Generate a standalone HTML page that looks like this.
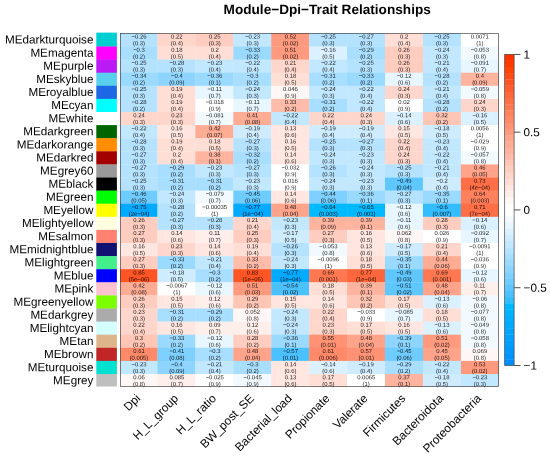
<!DOCTYPE html>
<html lang="en"><head><meta charset="utf-8"><title>Module-Dpi-Trait Relationships</title>
<style>html,body{margin:0;padding:0;background:#fff}svg{display:block}text{font-family:"Liberation Sans",Arial,Helvetica,sans-serif;fill:#000;text-rendering:geometricPrecision}.c{font-size:5.9px;text-anchor:middle;fill-opacity:.9}.r{font-size:11.7px;text-anchor:end}.x{font-size:11.8px;text-anchor:end}.k{font-size:11.7px}</style></head>
<body>
<svg width="550" height="456" viewBox="0 0 550 456">
<rect width="550" height="456" fill="#fff"/>
<text x="327.2" y="14.0" transform="rotate(.05 327.2 14.0)" font-size="13.62" font-weight="bold" text-anchor="middle">Module−Dpi−Trait Relationships</text>
<g>
<rect x="96.30" y="32.60" width="20.60" height="14.20" fill="#00CFD2"/>
<rect x="96.30" y="46.50" width="20.60" height="13.40" fill="#FF00FF"/>
<rect x="96.30" y="59.60" width="20.60" height="13.40" fill="#BB1AF5"/>
<rect x="96.30" y="72.70" width="20.60" height="13.40" fill="#57CFED"/>
<rect x="96.30" y="85.80" width="20.60" height="13.40" fill="#1D69E5"/>
<rect x="96.30" y="98.90" width="20.60" height="13.40" fill="#00FFFF"/>
<rect x="96.30" y="112.00" width="20.60" height="13.40" fill="#FFFFFF"/>
<rect x="96.30" y="125.10" width="20.60" height="13.40" fill="#006400"/>
<rect x="96.30" y="138.20" width="20.60" height="13.40" fill="#FF8D00"/>
<rect x="96.30" y="151.30" width="20.60" height="13.40" fill="#A30000"/>
<rect x="96.30" y="164.40" width="20.60" height="13.40" fill="#9A9A9A"/>
<rect x="96.30" y="177.50" width="20.60" height="13.40" fill="#000000"/>
<rect x="96.30" y="190.60" width="20.60" height="13.40" fill="#00FF00"/>
<rect x="96.30" y="203.70" width="20.60" height="13.40" fill="#FFFF00"/>
<rect x="96.30" y="216.80" width="20.60" height="13.40" fill="#FFFFDF"/>
<rect x="96.30" y="229.90" width="20.60" height="13.40" fill="#FF8172"/>
<rect x="96.30" y="243.00" width="20.60" height="13.40" fill="#121273"/>
<rect x="96.30" y="256.10" width="20.60" height="13.40" fill="#43EF8B"/>
<rect x="96.30" y="269.20" width="20.60" height="13.40" fill="#0000FF"/>
<rect x="96.30" y="282.30" width="20.60" height="13.40" fill="#FFC1CD"/>
<rect x="96.30" y="295.40" width="20.60" height="13.40" fill="#7BFF00"/>
<rect x="96.30" y="308.50" width="20.60" height="13.40" fill="#ABABAB"/>
<rect x="96.30" y="321.60" width="20.60" height="13.40" fill="#D3FFFF"/>
<rect x="96.30" y="334.70" width="20.60" height="13.40" fill="#DEB58B"/>
<rect x="96.30" y="347.80" width="20.60" height="13.40" fill="#C02626"/>
<rect x="96.30" y="360.90" width="20.60" height="13.40" fill="#00E1D0"/>
<rect x="96.30" y="374.00" width="20.60" height="12.55" fill="#BFBFBF"/>
</g>
<g>
<rect x="120.00" y="33.00" width="37.73" height="13.80" fill="#B5E3FF"/><rect x="157.43" y="33.00" width="38.23" height="13.80" fill="#FFD6CB"/><rect x="195.36" y="33.00" width="38.23" height="13.80" fill="#FFCDC0"/><rect x="233.29" y="33.00" width="38.23" height="13.80" fill="#C2E8FF"/><rect x="271.22" y="33.00" width="38.23" height="13.80" fill="#FF9A7F"/><rect x="309.15" y="33.00" width="38.23" height="13.80" fill="#B5E3FF"/><rect x="347.08" y="33.00" width="38.23" height="13.80" fill="#B5E3FF"/><rect x="385.01" y="33.00" width="38.23" height="13.80" fill="#FFDED5"/><rect x="422.94" y="33.00" width="38.23" height="13.80" fill="#B5E3FF"/><rect x="460.87" y="33.00" width="38.03" height="13.80" fill="#FFFFFF"/>
<rect x="120.00" y="46.50" width="37.73" height="13.40" fill="#A8DEFF"/><rect x="157.43" y="46.50" width="38.23" height="13.40" fill="#FFDED5"/><rect x="195.36" y="46.50" width="38.23" height="13.40" fill="#FFDED5"/><rect x="233.29" y="46.50" width="38.23" height="13.40" fill="#9BDAFF"/><rect x="271.22" y="46.50" width="38.23" height="13.40" fill="#FF9A7F"/><rect x="309.15" y="46.50" width="38.23" height="13.40" fill="#DBF1FF"/><rect x="347.08" y="46.50" width="38.23" height="13.40" fill="#A8DEFF"/><rect x="385.01" y="46.50" width="38.23" height="13.40" fill="#FFCDC0"/><rect x="422.94" y="46.50" width="38.23" height="13.40" fill="#C2E8FF"/><rect x="460.87" y="46.50" width="38.03" height="13.40" fill="#F3FAFF"/>
<rect x="120.00" y="59.60" width="37.73" height="13.40" fill="#B5E3FF"/><rect x="157.43" y="59.60" width="38.23" height="13.40" fill="#B5E3FF"/><rect x="195.36" y="59.60" width="38.23" height="13.40" fill="#C2E8FF"/><rect x="233.29" y="59.60" width="38.23" height="13.40" fill="#C2E8FF"/><rect x="271.22" y="59.60" width="38.23" height="13.40" fill="#FFD6CB"/><rect x="309.15" y="59.60" width="38.23" height="13.40" fill="#C2E8FF"/><rect x="347.08" y="59.60" width="38.23" height="13.40" fill="#B5E3FF"/><rect x="385.01" y="59.60" width="38.23" height="13.40" fill="#FFCDC0"/><rect x="422.94" y="59.60" width="38.23" height="13.40" fill="#C2E8FF"/><rect x="460.87" y="59.60" width="38.03" height="13.40" fill="#E7F6FF"/>
<rect x="120.00" y="72.70" width="37.73" height="13.40" fill="#9BDAFF"/><rect x="157.43" y="72.70" width="38.23" height="13.40" fill="#8DD5FF"/><rect x="195.36" y="72.70" width="38.23" height="13.40" fill="#9BDAFF"/><rect x="233.29" y="72.70" width="38.23" height="13.40" fill="#A8DEFF"/><rect x="271.22" y="72.70" width="38.23" height="13.40" fill="#FFDED5"/><rect x="309.15" y="72.70" width="38.23" height="13.40" fill="#A8DEFF"/><rect x="347.08" y="72.70" width="38.23" height="13.40" fill="#9BDAFF"/><rect x="385.01" y="72.70" width="38.23" height="13.40" fill="#E7F6FF"/><rect x="422.94" y="72.70" width="38.23" height="13.40" fill="#B5E3FF"/><rect x="460.87" y="72.70" width="38.03" height="13.40" fill="#FFB4A0"/>
<rect x="120.00" y="85.80" width="37.73" height="13.40" fill="#B5E3FF"/><rect x="157.43" y="85.80" width="38.23" height="13.40" fill="#FFDED5"/><rect x="195.36" y="85.80" width="38.23" height="13.40" fill="#E7F6FF"/><rect x="233.29" y="85.80" width="38.23" height="13.40" fill="#C2E8FF"/><rect x="271.22" y="85.80" width="38.23" height="13.40" fill="#FFF7F5"/><rect x="309.15" y="85.80" width="38.23" height="13.40" fill="#C2E8FF"/><rect x="347.08" y="85.80" width="38.23" height="13.40" fill="#C2E8FF"/><rect x="385.01" y="85.80" width="38.23" height="13.40" fill="#FFD6CB"/><rect x="422.94" y="85.80" width="38.23" height="13.40" fill="#C2E8FF"/><rect x="460.87" y="85.80" width="38.03" height="13.40" fill="#F3FAFF"/>
<rect x="120.00" y="98.90" width="37.73" height="13.40" fill="#B5E3FF"/><rect x="157.43" y="98.90" width="38.23" height="13.40" fill="#FFDED5"/><rect x="195.36" y="98.90" width="38.23" height="13.40" fill="#FFFFFF"/><rect x="233.29" y="98.90" width="38.23" height="13.40" fill="#E7F6FF"/><rect x="271.22" y="98.90" width="38.23" height="13.40" fill="#FFBCAB"/><rect x="309.15" y="98.90" width="38.23" height="13.40" fill="#A8DEFF"/><rect x="347.08" y="98.90" width="38.23" height="13.40" fill="#C2E8FF"/><rect x="385.01" y="98.90" width="38.23" height="13.40" fill="#FFFFFF"/><rect x="422.94" y="98.90" width="38.23" height="13.40" fill="#B5E3FF"/><rect x="460.87" y="98.90" width="38.03" height="13.40" fill="#FFD6CB"/>
<rect x="120.00" y="112.00" width="37.73" height="13.40" fill="#FFD6CB"/><rect x="157.43" y="112.00" width="38.23" height="13.40" fill="#FFD6CB"/><rect x="195.36" y="112.00" width="38.23" height="13.40" fill="#F3FAFF"/><rect x="233.29" y="112.00" width="38.23" height="13.40" fill="#FFAC95"/><rect x="271.22" y="112.00" width="38.23" height="13.40" fill="#C2E8FF"/><rect x="309.15" y="112.00" width="38.23" height="13.40" fill="#FFD6CB"/><rect x="347.08" y="112.00" width="38.23" height="13.40" fill="#FFD6CB"/><rect x="385.01" y="112.00" width="38.23" height="13.40" fill="#DBF1FF"/><rect x="422.94" y="112.00" width="38.23" height="13.40" fill="#FFC5B5"/><rect x="460.87" y="112.00" width="38.03" height="13.40" fill="#DBF1FF"/>
<rect x="120.00" y="125.10" width="37.73" height="13.40" fill="#C2E8FF"/><rect x="157.43" y="125.10" width="38.23" height="13.40" fill="#FFE6E0"/><rect x="195.36" y="125.10" width="38.23" height="13.40" fill="#FFAC95"/><rect x="233.29" y="125.10" width="38.23" height="13.40" fill="#CFECFF"/><rect x="271.22" y="125.10" width="38.23" height="13.40" fill="#FFE6E0"/><rect x="309.15" y="125.10" width="38.23" height="13.40" fill="#CFECFF"/><rect x="347.08" y="125.10" width="38.23" height="13.40" fill="#CFECFF"/><rect x="385.01" y="125.10" width="38.23" height="13.40" fill="#FFE6E0"/><rect x="422.94" y="125.10" width="38.23" height="13.40" fill="#CFECFF"/><rect x="460.87" y="125.10" width="38.03" height="13.40" fill="#FFFFFF"/>
<rect x="120.00" y="138.20" width="37.73" height="13.40" fill="#B5E3FF"/><rect x="157.43" y="138.20" width="38.23" height="13.40" fill="#FFDED5"/><rect x="195.36" y="138.20" width="38.23" height="13.40" fill="#FFDED5"/><rect x="233.29" y="138.20" width="38.23" height="13.40" fill="#B5E3FF"/><rect x="271.22" y="138.20" width="38.23" height="13.40" fill="#FFE6E0"/><rect x="309.15" y="138.20" width="38.23" height="13.40" fill="#B5E3FF"/><rect x="347.08" y="138.20" width="38.23" height="13.40" fill="#B5E3FF"/><rect x="385.01" y="138.20" width="38.23" height="13.40" fill="#FFD6CB"/><rect x="422.94" y="138.20" width="38.23" height="13.40" fill="#C2E8FF"/><rect x="460.87" y="138.20" width="38.03" height="13.40" fill="#FFFFFF"/>
<rect x="120.00" y="151.30" width="37.73" height="13.40" fill="#B5E3FF"/><rect x="157.43" y="151.30" width="38.23" height="13.40" fill="#FFDED5"/><rect x="195.36" y="151.30" width="38.23" height="13.40" fill="#FFB4A0"/><rect x="233.29" y="151.30" width="38.23" height="13.40" fill="#A8DEFF"/><rect x="271.22" y="151.30" width="38.23" height="13.40" fill="#FFE6E0"/><rect x="309.15" y="151.30" width="38.23" height="13.40" fill="#C2E8FF"/><rect x="347.08" y="151.30" width="38.23" height="13.40" fill="#C2E8FF"/><rect x="385.01" y="151.30" width="38.23" height="13.40" fill="#FFD6CB"/><rect x="422.94" y="151.30" width="38.23" height="13.40" fill="#C2E8FF"/><rect x="460.87" y="151.30" width="38.03" height="13.40" fill="#F3FAFF"/>
<rect x="120.00" y="164.40" width="37.73" height="13.40" fill="#B5E3FF"/><rect x="157.43" y="164.40" width="38.23" height="13.40" fill="#A8DEFF"/><rect x="195.36" y="164.40" width="38.23" height="13.40" fill="#C2E8FF"/><rect x="233.29" y="164.40" width="38.23" height="13.40" fill="#B5E3FF"/><rect x="271.22" y="164.40" width="38.23" height="13.40" fill="#FFFFFF"/><rect x="309.15" y="164.40" width="38.23" height="13.40" fill="#B5E3FF"/><rect x="347.08" y="164.40" width="38.23" height="13.40" fill="#C2E8FF"/><rect x="385.01" y="164.40" width="38.23" height="13.40" fill="#B5E3FF"/><rect x="422.94" y="164.40" width="38.23" height="13.40" fill="#C2E8FF"/><rect x="460.87" y="164.40" width="38.03" height="13.40" fill="#FFA38A"/>
<rect x="120.00" y="177.50" width="37.73" height="13.40" fill="#B5E3FF"/><rect x="157.43" y="177.50" width="38.23" height="13.40" fill="#A8DEFF"/><rect x="195.36" y="177.50" width="38.23" height="13.40" fill="#A8DEFF"/><rect x="233.29" y="177.50" width="38.23" height="13.40" fill="#C2E8FF"/><rect x="271.22" y="177.50" width="38.23" height="13.40" fill="#FFFFFF"/><rect x="309.15" y="177.50" width="38.23" height="13.40" fill="#C2E8FF"/><rect x="347.08" y="177.50" width="38.23" height="13.40" fill="#C2E8FF"/><rect x="385.01" y="177.50" width="38.23" height="13.40" fill="#5EC7FF"/><rect x="422.94" y="177.50" width="38.23" height="13.40" fill="#CFECFF"/><rect x="460.87" y="177.50" width="38.03" height="13.40" fill="#FF6F47"/>
<rect x="120.00" y="190.60" width="37.73" height="13.40" fill="#6FCCFF"/><rect x="157.43" y="190.60" width="38.23" height="13.40" fill="#C2E8FF"/><rect x="195.36" y="190.60" width="38.23" height="13.40" fill="#F3FAFF"/><rect x="233.29" y="190.60" width="38.23" height="13.40" fill="#6FCCFF"/><rect x="271.22" y="190.60" width="38.23" height="13.40" fill="#FFE6E0"/><rect x="309.15" y="190.60" width="38.23" height="13.40" fill="#7ED0FF"/><rect x="347.08" y="190.60" width="38.23" height="13.40" fill="#9BDAFF"/><rect x="385.01" y="190.60" width="38.23" height="13.40" fill="#B5E3FF"/><rect x="422.94" y="190.60" width="38.23" height="13.40" fill="#9BDAFF"/><rect x="460.87" y="190.60" width="38.03" height="13.40" fill="#FF815E"/>
<rect x="120.00" y="203.70" width="37.73" height="13.40" fill="#00AAFF"/><rect x="157.43" y="203.70" width="38.23" height="13.40" fill="#B5E3FF"/><rect x="195.36" y="203.70" width="38.23" height="13.40" fill="#FFFFFF"/><rect x="233.29" y="203.70" width="38.23" height="13.40" fill="#00AAFF"/><rect x="271.22" y="203.70" width="38.23" height="13.40" fill="#FFA38A"/><rect x="309.15" y="203.70" width="38.23" height="13.40" fill="#01B9FF"/><rect x="347.08" y="203.70" width="38.23" height="13.40" fill="#01B9FF"/><rect x="385.01" y="203.70" width="38.23" height="13.40" fill="#E7F6FF"/><rect x="422.94" y="203.70" width="38.23" height="13.40" fill="#33BDFF"/><rect x="460.87" y="203.70" width="38.03" height="13.40" fill="#FF6F47"/>
<rect x="120.00" y="216.80" width="37.73" height="13.40" fill="#FFCDC0"/><rect x="157.43" y="216.80" width="38.23" height="13.40" fill="#B5E3FF"/><rect x="195.36" y="216.80" width="38.23" height="13.40" fill="#B5E3FF"/><rect x="233.29" y="216.80" width="38.23" height="13.40" fill="#FFD6CB"/><rect x="271.22" y="216.80" width="38.23" height="13.40" fill="#C2E8FF"/><rect x="309.15" y="216.80" width="38.23" height="13.40" fill="#FFB4A0"/><rect x="347.08" y="216.80" width="38.23" height="13.40" fill="#FFB4A0"/><rect x="385.01" y="216.80" width="38.23" height="13.40" fill="#E7F6FF"/><rect x="422.94" y="216.80" width="38.23" height="13.40" fill="#FFCDC0"/><rect x="460.87" y="216.80" width="38.03" height="13.40" fill="#DBF1FF"/>
<rect x="120.00" y="229.90" width="37.73" height="13.40" fill="#FFCDC0"/><rect x="157.43" y="229.90" width="38.23" height="13.40" fill="#FFE6E0"/><rect x="195.36" y="229.90" width="38.23" height="13.40" fill="#FFEFEA"/><rect x="233.29" y="229.90" width="38.23" height="13.40" fill="#FFCDC0"/><rect x="271.22" y="229.90" width="38.23" height="13.40" fill="#CFECFF"/><rect x="309.15" y="229.90" width="38.23" height="13.40" fill="#FFCDC0"/><rect x="347.08" y="229.90" width="38.23" height="13.40" fill="#FFE6E0"/><rect x="385.01" y="229.90" width="38.23" height="13.40" fill="#FFF7F5"/><rect x="422.94" y="229.90" width="38.23" height="13.40" fill="#FFFFFF"/><rect x="460.87" y="229.90" width="38.03" height="13.40" fill="#E7F6FF"/>
<rect x="120.00" y="243.00" width="37.73" height="13.40" fill="#FFE6E0"/><rect x="157.43" y="243.00" width="38.23" height="13.40" fill="#FFD6CB"/><rect x="195.36" y="243.00" width="38.23" height="13.40" fill="#FFE6E0"/><rect x="233.29" y="243.00" width="38.23" height="13.40" fill="#FFDED5"/><rect x="271.22" y="243.00" width="38.23" height="13.40" fill="#B5E3FF"/><rect x="309.15" y="243.00" width="38.23" height="13.40" fill="#F3FAFF"/><rect x="347.08" y="243.00" width="38.23" height="13.40" fill="#FFE6E0"/><rect x="385.01" y="243.00" width="38.23" height="13.40" fill="#CFECFF"/><rect x="422.94" y="243.00" width="38.23" height="13.40" fill="#FFD6CB"/><rect x="460.87" y="243.00" width="38.03" height="13.40" fill="#FFFFFF"/>
<rect x="120.00" y="256.10" width="37.73" height="13.40" fill="#FFCDC0"/><rect x="157.43" y="256.10" width="38.23" height="13.40" fill="#9BDAFF"/><rect x="195.36" y="256.10" width="38.23" height="13.40" fill="#C2E8FF"/><rect x="233.29" y="256.10" width="38.23" height="13.40" fill="#FFBCAB"/><rect x="271.22" y="256.10" width="38.23" height="13.40" fill="#C2E8FF"/><rect x="309.15" y="256.10" width="38.23" height="13.40" fill="#FFFFFF"/><rect x="347.08" y="256.10" width="38.23" height="13.40" fill="#FFDED5"/><rect x="385.01" y="256.10" width="38.23" height="13.40" fill="#9BDAFF"/><rect x="422.94" y="256.10" width="38.23" height="13.40" fill="#FFAC95"/><rect x="460.87" y="256.10" width="38.03" height="13.40" fill="#FFFFFF"/>
<rect x="120.00" y="269.20" width="37.73" height="13.40" fill="#FF5423"/><rect x="157.43" y="269.20" width="38.23" height="13.40" fill="#CFECFF"/><rect x="195.36" y="269.20" width="38.23" height="13.40" fill="#A8DEFF"/><rect x="233.29" y="269.20" width="38.23" height="13.40" fill="#FF5423"/><rect x="271.22" y="269.20" width="38.23" height="13.40" fill="#00AAFF"/><rect x="309.15" y="269.20" width="38.23" height="13.40" fill="#FF7852"/><rect x="347.08" y="269.20" width="38.23" height="13.40" fill="#FF663B"/><rect x="385.01" y="269.20" width="38.23" height="13.40" fill="#5EC7FF"/><rect x="422.94" y="269.20" width="38.23" height="13.40" fill="#FF7852"/><rect x="460.87" y="269.20" width="38.03" height="13.40" fill="#E7F6FF"/>
<rect x="120.00" y="282.30" width="37.73" height="13.40" fill="#FFAC95"/><rect x="157.43" y="282.30" width="38.23" height="13.40" fill="#FFFFFF"/><rect x="195.36" y="282.30" width="38.23" height="13.40" fill="#E7F6FF"/><rect x="233.29" y="282.30" width="38.23" height="13.40" fill="#FF9A7F"/><rect x="271.22" y="282.30" width="38.23" height="13.40" fill="#4BC2FF"/><rect x="309.15" y="282.30" width="38.23" height="13.40" fill="#FFDED5"/><rect x="347.08" y="282.30" width="38.23" height="13.40" fill="#FFB4A0"/><rect x="385.01" y="282.30" width="38.23" height="13.40" fill="#5EC7FF"/><rect x="422.94" y="282.30" width="38.23" height="13.40" fill="#FFA38A"/><rect x="460.87" y="282.30" width="38.03" height="13.40" fill="#FFEFEA"/>
<rect x="120.00" y="295.40" width="37.73" height="13.40" fill="#FFCDC0"/><rect x="157.43" y="295.40" width="38.23" height="13.40" fill="#FFE6E0"/><rect x="195.36" y="295.40" width="38.23" height="13.40" fill="#FFEFEA"/><rect x="233.29" y="295.40" width="38.23" height="13.40" fill="#FFC5B5"/><rect x="271.22" y="295.40" width="38.23" height="13.40" fill="#FFE6E0"/><rect x="309.15" y="295.40" width="38.23" height="13.40" fill="#FFE6E0"/><rect x="347.08" y="295.40" width="38.23" height="13.40" fill="#FFC5B5"/><rect x="385.01" y="295.40" width="38.23" height="13.40" fill="#FFDED5"/><rect x="422.94" y="295.40" width="38.23" height="13.40" fill="#DBF1FF"/><rect x="460.87" y="295.40" width="38.03" height="13.40" fill="#F3FAFF"/>
<rect x="120.00" y="308.50" width="37.73" height="13.40" fill="#FFD6CB"/><rect x="157.43" y="308.50" width="38.23" height="13.40" fill="#A8DEFF"/><rect x="195.36" y="308.50" width="38.23" height="13.40" fill="#A8DEFF"/><rect x="233.29" y="308.50" width="38.23" height="13.40" fill="#FFF7F5"/><rect x="271.22" y="308.50" width="38.23" height="13.40" fill="#C2E8FF"/><rect x="309.15" y="308.50" width="38.23" height="13.40" fill="#FFD6CB"/><rect x="347.08" y="308.50" width="38.23" height="13.40" fill="#FFFFFF"/><rect x="385.01" y="308.50" width="38.23" height="13.40" fill="#E7F6FF"/><rect x="422.94" y="308.50" width="38.23" height="13.40" fill="#FFDED5"/><rect x="460.87" y="308.50" width="38.03" height="13.40" fill="#F3FAFF"/>
<rect x="120.00" y="321.60" width="37.73" height="13.40" fill="#FFD6CB"/><rect x="157.43" y="321.60" width="38.23" height="13.40" fill="#FFE6E0"/><rect x="195.36" y="321.60" width="38.23" height="13.40" fill="#FFEFEA"/><rect x="233.29" y="321.60" width="38.23" height="13.40" fill="#FFEFEA"/><rect x="271.22" y="321.60" width="38.23" height="13.40" fill="#C2E8FF"/><rect x="309.15" y="321.60" width="38.23" height="13.40" fill="#FFD6CB"/><rect x="347.08" y="321.60" width="38.23" height="13.40" fill="#FFDED5"/><rect x="385.01" y="321.60" width="38.23" height="13.40" fill="#FFE6E0"/><rect x="422.94" y="321.60" width="38.23" height="13.40" fill="#DBF1FF"/><rect x="460.87" y="321.60" width="38.03" height="13.40" fill="#F3FAFF"/>
<rect x="120.00" y="334.70" width="37.73" height="13.40" fill="#FFC5B5"/><rect x="157.43" y="334.70" width="38.23" height="13.40" fill="#9BDAFF"/><rect x="195.36" y="334.70" width="38.23" height="13.40" fill="#E7F6FF"/><rect x="233.29" y="334.70" width="38.23" height="13.40" fill="#FFCDC0"/><rect x="271.22" y="334.70" width="38.23" height="13.40" fill="#9BDAFF"/><rect x="309.15" y="334.70" width="38.23" height="13.40" fill="#FF9274"/><rect x="347.08" y="334.70" width="38.23" height="13.40" fill="#FFA38A"/><rect x="385.01" y="334.70" width="38.23" height="13.40" fill="#8DD5FF"/><rect x="422.94" y="334.70" width="38.23" height="13.40" fill="#FF9A7F"/><rect x="460.87" y="334.70" width="38.03" height="13.40" fill="#F3FAFF"/>
<rect x="120.00" y="347.80" width="37.73" height="13.40" fill="#FF8969"/><rect x="157.43" y="347.80" width="38.23" height="13.40" fill="#7ED0FF"/><rect x="195.36" y="347.80" width="38.23" height="13.40" fill="#A8DEFF"/><rect x="233.29" y="347.80" width="38.23" height="13.40" fill="#FFA38A"/><rect x="271.22" y="347.80" width="38.23" height="13.40" fill="#4BC2FF"/><rect x="309.15" y="347.80" width="38.23" height="13.40" fill="#FF8969"/><rect x="347.08" y="347.80" width="38.23" height="13.40" fill="#FF9274"/><rect x="385.01" y="347.80" width="38.23" height="13.40" fill="#6FCCFF"/><rect x="422.94" y="347.80" width="38.23" height="13.40" fill="#FFA38A"/><rect x="460.87" y="347.80" width="38.03" height="13.40" fill="#FFF7F5"/>
<rect x="120.00" y="360.90" width="37.73" height="13.40" fill="#C2E8FF"/><rect x="157.43" y="360.90" width="38.23" height="13.40" fill="#8DD5FF"/><rect x="195.36" y="360.90" width="38.23" height="13.40" fill="#C2E8FF"/><rect x="233.29" y="360.90" width="38.23" height="13.40" fill="#A8DEFF"/><rect x="271.22" y="360.90" width="38.23" height="13.40" fill="#FFE6E0"/><rect x="309.15" y="360.90" width="38.23" height="13.40" fill="#DBF1FF"/><rect x="347.08" y="360.90" width="38.23" height="13.40" fill="#CFECFF"/><rect x="385.01" y="360.90" width="38.23" height="13.40" fill="#A8DEFF"/><rect x="422.94" y="360.90" width="38.23" height="13.40" fill="#C2E8FF"/><rect x="460.87" y="360.90" width="38.03" height="13.40" fill="#FF9A7F"/>
<rect x="120.00" y="374.00" width="37.73" height="12.80" fill="#FFF7F5"/><rect x="157.43" y="374.00" width="38.23" height="12.80" fill="#FFEFEA"/><rect x="195.36" y="374.00" width="38.23" height="12.80" fill="#FFFFFF"/><rect x="233.29" y="374.00" width="38.23" height="12.80" fill="#F3FAFF"/><rect x="271.22" y="374.00" width="38.23" height="12.80" fill="#FFE6E0"/><rect x="309.15" y="374.00" width="38.23" height="12.80" fill="#FFDED5"/><rect x="347.08" y="374.00" width="38.23" height="12.80" fill="#FFFFFF"/><rect x="385.01" y="374.00" width="38.23" height="12.80" fill="#FFB4A0"/><rect x="422.94" y="374.00" width="38.23" height="12.80" fill="#CFECFF"/><rect x="460.87" y="374.00" width="38.03" height="12.80" fill="#C2E8FF"/>
</g>
<rect x="120.40" y="33.50" width="378.20" height="353.15" fill="none" stroke="#3c3c3c" stroke-width="0.65"/>
<text class="r" x="93.4" y="43.60" transform="rotate(.05 63.4 43.6)">MEdarkturquoise</text>
<text class="r" x="93.4" y="56.70" transform="rotate(.05 63.4 56.7)">MEmagenta</text>
<text class="r" x="93.4" y="69.81" transform="rotate(.05 63.4 69.8)">MEpurple</text>
<text class="r" x="93.4" y="82.91" transform="rotate(.05 63.4 82.9)">MEskyblue</text>
<text class="r" x="93.4" y="96.02" transform="rotate(.05 63.4 96.0)">MEroyalblue</text>
<text class="r" x="93.4" y="109.12" transform="rotate(.05 63.4 109.1)">MEcyan</text>
<text class="r" x="93.4" y="122.23" transform="rotate(.05 63.4 122.2)">MEwhite</text>
<text class="r" x="93.4" y="135.34" transform="rotate(.05 63.4 135.3)">MEdarkgreen</text>
<text class="r" x="93.4" y="148.44" transform="rotate(.05 63.4 148.4)">MEdarkorange</text>
<text class="r" x="93.4" y="161.55" transform="rotate(.05 63.4 161.5)">MEdarkred</text>
<text class="r" x="93.4" y="174.65" transform="rotate(.05 63.4 174.7)">MEgrey60</text>
<text class="r" x="93.4" y="187.75" transform="rotate(.05 63.4 187.8)">MEblack</text>
<text class="r" x="93.4" y="200.86" transform="rotate(.05 63.4 200.9)">MEgreen</text>
<text class="r" x="93.4" y="213.97" transform="rotate(.05 63.4 214.0)">MEyellow</text>
<text class="r" x="93.4" y="227.07" transform="rotate(.05 63.4 227.1)">MElightyellow</text>
<text class="r" x="93.4" y="240.18" transform="rotate(.05 63.4 240.2)">MEsalmon</text>
<text class="r" x="93.4" y="253.28" transform="rotate(.05 63.4 253.3)">MEmidnightblue</text>
<text class="r" x="93.4" y="266.38" transform="rotate(.05 63.4 266.4)">MElightgreen</text>
<text class="r" x="93.4" y="279.49" transform="rotate(.05 63.4 279.5)">MEblue</text>
<text class="r" x="93.4" y="292.60" transform="rotate(.05 63.4 292.6)">MEpink</text>
<text class="r" x="93.4" y="305.70" transform="rotate(.05 63.4 305.7)">MEgreenyellow</text>
<text class="r" x="93.4" y="318.81" transform="rotate(.05 63.4 318.8)">MEdarkgrey</text>
<text class="r" x="93.4" y="331.91" transform="rotate(.05 63.4 331.9)">MElightcyan</text>
<text class="r" x="93.4" y="345.02" transform="rotate(.05 63.4 345.0)">MEtan</text>
<text class="r" x="93.4" y="358.12" transform="rotate(.05 63.4 358.1)">MEbrown</text>
<text class="r" x="93.4" y="371.23" transform="rotate(.05 63.4 371.2)">MEturquoise</text>
<text class="r" x="93.4" y="384.33" transform="rotate(.05 63.4 384.3)">MEgrey</text>
<g>
<text class="c" x="139.00" y="38.55" transform="rotate(.05 139.0 38.5)">−0.26</text><text class="c" x="139.00" y="45.30" transform="rotate(.05 139.0 45.3)">(0.3)</text><text class="c" x="176.87" y="38.55" transform="rotate(.05 176.9 38.5)">0.22</text><text class="c" x="176.87" y="45.30" transform="rotate(.05 176.9 45.3)">(0.4)</text><text class="c" x="214.74" y="38.55" transform="rotate(.05 214.7 38.5)">0.25</text><text class="c" x="214.74" y="45.30" transform="rotate(.05 214.7 45.3)">(0.3)</text><text class="c" x="252.61" y="38.55" transform="rotate(.05 252.6 38.5)">−0.23</text><text class="c" x="252.61" y="45.30" transform="rotate(.05 252.6 45.3)">(0.3)</text><text class="c" x="290.48" y="38.55" transform="rotate(.05 290.5 38.5)">0.52</text><text class="c" x="290.48" y="45.30" transform="rotate(.05 290.5 45.3)">(0.02)</text><text class="c" x="328.35" y="38.55" transform="rotate(.05 328.4 38.5)">−0.25</text><text class="c" x="328.35" y="45.30" transform="rotate(.05 328.4 45.3)">(0.3)</text><text class="c" x="366.22" y="38.55" transform="rotate(.05 366.2 38.5)">−0.27</text><text class="c" x="366.22" y="45.30" transform="rotate(.05 366.2 45.3)">(0.3)</text><text class="c" x="404.09" y="38.55" transform="rotate(.05 404.1 38.5)">0.2</text><text class="c" x="404.09" y="45.30" transform="rotate(.05 404.1 45.3)">(0.4)</text><text class="c" x="441.96" y="38.55" transform="rotate(.05 442.0 38.5)">−0.25</text><text class="c" x="441.96" y="45.30" transform="rotate(.05 442.0 45.3)">(0.3)</text><text class="c" x="479.83" y="38.55" transform="rotate(.05 479.8 38.5)">0.0071</text><text class="c" x="479.83" y="45.30" transform="rotate(.05 479.8 45.3)">(1)</text>
<text class="c" x="139.00" y="51.66" transform="rotate(.05 139.0 51.7)">−0.3</text><text class="c" x="139.00" y="58.41" transform="rotate(.05 139.0 58.4)">(0.2)</text><text class="c" x="176.87" y="51.66" transform="rotate(.05 176.9 51.7)">0.18</text><text class="c" x="176.87" y="58.41" transform="rotate(.05 176.9 58.4)">(0.5)</text><text class="c" x="214.74" y="51.66" transform="rotate(.05 214.7 51.7)">0.2</text><text class="c" x="214.74" y="58.41" transform="rotate(.05 214.7 58.4)">(0.4)</text><text class="c" x="252.61" y="51.66" transform="rotate(.05 252.6 51.7)">−0.33</text><text class="c" x="252.61" y="58.41" transform="rotate(.05 252.6 58.4)">(0.2)</text><text class="c" x="290.48" y="51.66" transform="rotate(.05 290.5 51.7)">0.51</text><text class="c" x="290.48" y="58.41" transform="rotate(.05 290.5 58.4)">(0.02)</text><text class="c" x="328.35" y="51.66" transform="rotate(.05 328.4 51.7)">−0.16</text><text class="c" x="328.35" y="58.41" transform="rotate(.05 328.4 58.4)">(0.5)</text><text class="c" x="366.22" y="51.66" transform="rotate(.05 366.2 51.7)">−0.29</text><text class="c" x="366.22" y="58.41" transform="rotate(.05 366.2 58.4)">(0.2)</text><text class="c" x="404.09" y="51.66" transform="rotate(.05 404.1 51.7)">0.26</text><text class="c" x="404.09" y="58.41" transform="rotate(.05 404.1 58.4)">(0.3)</text><text class="c" x="441.96" y="51.66" transform="rotate(.05 442.0 51.7)">−0.24</text><text class="c" x="441.96" y="58.41" transform="rotate(.05 442.0 58.4)">(0.3)</text><text class="c" x="479.83" y="51.66" transform="rotate(.05 479.8 51.7)">−0.053</text><text class="c" x="479.83" y="58.41" transform="rotate(.05 479.8 58.4)">(0.8)</text>
<text class="c" x="139.00" y="64.76" transform="rotate(.05 139.0 64.8)">−0.25</text><text class="c" x="139.00" y="71.51" transform="rotate(.05 139.0 71.5)">(0.3)</text><text class="c" x="176.87" y="64.76" transform="rotate(.05 176.9 64.8)">−0.28</text><text class="c" x="176.87" y="71.51" transform="rotate(.05 176.9 71.5)">(0.3)</text><text class="c" x="214.74" y="64.76" transform="rotate(.05 214.7 64.8)">−0.23</text><text class="c" x="214.74" y="71.51" transform="rotate(.05 214.7 71.5)">(0.4)</text><text class="c" x="252.61" y="64.76" transform="rotate(.05 252.6 64.8)">−0.22</text><text class="c" x="252.61" y="71.51" transform="rotate(.05 252.6 71.5)">(0.4)</text><text class="c" x="290.48" y="64.76" transform="rotate(.05 290.5 64.8)">0.21</text><text class="c" x="290.48" y="71.51" transform="rotate(.05 290.5 71.5)">(0.4)</text><text class="c" x="328.35" y="64.76" transform="rotate(.05 328.4 64.8)">−0.22</text><text class="c" x="328.35" y="71.51" transform="rotate(.05 328.4 71.5)">(0.4)</text><text class="c" x="366.22" y="64.76" transform="rotate(.05 366.2 64.8)">−0.25</text><text class="c" x="366.22" y="71.51" transform="rotate(.05 366.2 71.5)">(0.3)</text><text class="c" x="404.09" y="64.76" transform="rotate(.05 404.1 64.8)">0.26</text><text class="c" x="404.09" y="71.51" transform="rotate(.05 404.1 71.5)">(0.3)</text><text class="c" x="441.96" y="64.76" transform="rotate(.05 442.0 64.8)">−0.21</text><text class="c" x="441.96" y="71.51" transform="rotate(.05 442.0 71.5)">(0.4)</text><text class="c" x="479.83" y="64.76" transform="rotate(.05 479.8 64.8)">−0.091</text><text class="c" x="479.83" y="71.51" transform="rotate(.05 479.8 71.5)">(0.7)</text>
<text class="c" x="139.00" y="77.86" transform="rotate(.05 139.0 77.9)">−0.34</text><text class="c" x="139.00" y="84.61" transform="rotate(.05 139.0 84.6)">(0.2)</text><text class="c" x="176.87" y="77.86" transform="rotate(.05 176.9 77.9)">−0.4</text><text class="c" x="176.87" y="84.61" transform="rotate(.05 176.9 84.6)">(0.09)</text><text class="c" x="214.74" y="77.86" transform="rotate(.05 214.7 77.9)">−0.36</text><text class="c" x="214.74" y="84.61" transform="rotate(.05 214.7 84.6)">(0.1)</text><text class="c" x="252.61" y="77.86" transform="rotate(.05 252.6 77.9)">−0.3</text><text class="c" x="252.61" y="84.61" transform="rotate(.05 252.6 84.6)">(0.2)</text><text class="c" x="290.48" y="77.86" transform="rotate(.05 290.5 77.9)">0.18</text><text class="c" x="290.48" y="84.61" transform="rotate(.05 290.5 84.6)">(0.5)</text><text class="c" x="328.35" y="77.86" transform="rotate(.05 328.4 77.9)">−0.31</text><text class="c" x="328.35" y="84.61" transform="rotate(.05 328.4 84.6)">(0.2)</text><text class="c" x="366.22" y="77.86" transform="rotate(.05 366.2 77.9)">−0.33</text><text class="c" x="366.22" y="84.61" transform="rotate(.05 366.2 84.6)">(0.2)</text><text class="c" x="404.09" y="77.86" transform="rotate(.05 404.1 77.9)">−0.12</text><text class="c" x="404.09" y="84.61" transform="rotate(.05 404.1 84.6)">(0.6)</text><text class="c" x="441.96" y="77.86" transform="rotate(.05 442.0 77.9)">−0.28</text><text class="c" x="441.96" y="84.61" transform="rotate(.05 442.0 84.6)">(0.2)</text><text class="c" x="479.83" y="77.86" transform="rotate(.05 479.8 77.9)">0.4</text><text class="c" x="479.83" y="84.61" transform="rotate(.05 479.8 84.6)">(0.09)</text>
<text class="c" x="139.00" y="90.97" transform="rotate(.05 139.0 91.0)">−0.25</text><text class="c" x="139.00" y="97.72" transform="rotate(.05 139.0 97.7)">(0.3)</text><text class="c" x="176.87" y="90.97" transform="rotate(.05 176.9 91.0)">0.19</text><text class="c" x="176.87" y="97.72" transform="rotate(.05 176.9 97.7)">(0.4)</text><text class="c" x="214.74" y="90.97" transform="rotate(.05 214.7 91.0)">−0.11</text><text class="c" x="214.74" y="97.72" transform="rotate(.05 214.7 97.7)">(0.7)</text><text class="c" x="252.61" y="90.97" transform="rotate(.05 252.6 91.0)">−0.24</text><text class="c" x="252.61" y="97.72" transform="rotate(.05 252.6 97.7)">(0.3)</text><text class="c" x="290.48" y="90.97" transform="rotate(.05 290.5 91.0)">0.046</text><text class="c" x="290.48" y="97.72" transform="rotate(.05 290.5 97.7)">(0.9)</text><text class="c" x="328.35" y="90.97" transform="rotate(.05 328.4 91.0)">−0.24</text><text class="c" x="328.35" y="97.72" transform="rotate(.05 328.4 97.7)">(0.3)</text><text class="c" x="366.22" y="90.97" transform="rotate(.05 366.2 91.0)">−0.22</text><text class="c" x="366.22" y="97.72" transform="rotate(.05 366.2 97.7)">(0.4)</text><text class="c" x="404.09" y="90.97" transform="rotate(.05 404.1 91.0)">0.24</text><text class="c" x="404.09" y="97.72" transform="rotate(.05 404.1 97.7)">(0.3)</text><text class="c" x="441.96" y="90.97" transform="rotate(.05 442.0 91.0)">−0.21</text><text class="c" x="441.96" y="97.72" transform="rotate(.05 442.0 97.7)">(0.4)</text><text class="c" x="479.83" y="90.97" transform="rotate(.05 479.8 91.0)">−0.059</text><text class="c" x="479.83" y="97.72" transform="rotate(.05 479.8 97.7)">(0.8)</text>
<text class="c" x="139.00" y="104.08" transform="rotate(.05 139.0 104.1)">−0.28</text><text class="c" x="139.00" y="110.83" transform="rotate(.05 139.0 110.8)">(0.2)</text><text class="c" x="176.87" y="104.08" transform="rotate(.05 176.9 104.1)">0.19</text><text class="c" x="176.87" y="110.83" transform="rotate(.05 176.9 110.8)">(0.4)</text><text class="c" x="214.74" y="104.08" transform="rotate(.05 214.7 104.1)">−0.018</text><text class="c" x="214.74" y="110.83" transform="rotate(.05 214.7 110.8)">(0.9)</text><text class="c" x="252.61" y="104.08" transform="rotate(.05 252.6 104.1)">−0.11</text><text class="c" x="252.61" y="110.83" transform="rotate(.05 252.6 110.8)">(0.7)</text><text class="c" x="290.48" y="104.08" transform="rotate(.05 290.5 104.1)">0.33</text><text class="c" x="290.48" y="110.83" transform="rotate(.05 290.5 110.8)">(0.2)</text><text class="c" x="328.35" y="104.08" transform="rotate(.05 328.4 104.1)">−0.31</text><text class="c" x="328.35" y="110.83" transform="rotate(.05 328.4 110.8)">(0.2)</text><text class="c" x="366.22" y="104.08" transform="rotate(.05 366.2 104.1)">−0.22</text><text class="c" x="366.22" y="110.83" transform="rotate(.05 366.2 110.8)">(0.4)</text><text class="c" x="404.09" y="104.08" transform="rotate(.05 404.1 104.1)">0.02</text><text class="c" x="404.09" y="110.83" transform="rotate(.05 404.1 110.8)">(0.9)</text><text class="c" x="441.96" y="104.08" transform="rotate(.05 442.0 104.1)">−0.28</text><text class="c" x="441.96" y="110.83" transform="rotate(.05 442.0 110.8)">(0.2)</text><text class="c" x="479.83" y="104.08" transform="rotate(.05 479.8 104.1)">0.24</text><text class="c" x="479.83" y="110.83" transform="rotate(.05 479.8 110.8)">(0.3)</text>
<text class="c" x="139.00" y="117.18" transform="rotate(.05 139.0 117.2)">0.24</text><text class="c" x="139.00" y="123.93" transform="rotate(.05 139.0 123.9)">(0.3)</text><text class="c" x="176.87" y="117.18" transform="rotate(.05 176.9 117.2)">0.23</text><text class="c" x="176.87" y="123.93" transform="rotate(.05 176.9 123.9)">(0.3)</text><text class="c" x="214.74" y="117.18" transform="rotate(.05 214.7 117.2)">−0.081</text><text class="c" x="214.74" y="123.93" transform="rotate(.05 214.7 123.9)">(0.7)</text><text class="c" x="252.61" y="117.18" transform="rotate(.05 252.6 117.2)">0.41</text><text class="c" x="252.61" y="123.93" transform="rotate(.05 252.6 123.9)">(0.08)</text><text class="c" x="290.48" y="117.18" transform="rotate(.05 290.5 117.2)">−0.22</text><text class="c" x="290.48" y="123.93" transform="rotate(.05 290.5 123.9)">(0.4)</text><text class="c" x="328.35" y="117.18" transform="rotate(.05 328.4 117.2)">0.22</text><text class="c" x="328.35" y="123.93" transform="rotate(.05 328.4 123.9)">(0.4)</text><text class="c" x="366.22" y="117.18" transform="rotate(.05 366.2 117.2)">0.24</text><text class="c" x="366.22" y="123.93" transform="rotate(.05 366.2 123.9)">(0.3)</text><text class="c" x="404.09" y="117.18" transform="rotate(.05 404.1 117.2)">−0.14</text><text class="c" x="404.09" y="123.93" transform="rotate(.05 404.1 123.9)">(0.6)</text><text class="c" x="441.96" y="117.18" transform="rotate(.05 442.0 117.2)">0.32</text><text class="c" x="441.96" y="123.93" transform="rotate(.05 442.0 123.9)">(0.2)</text><text class="c" x="479.83" y="117.18" transform="rotate(.05 479.8 117.2)">−0.16</text><text class="c" x="479.83" y="123.93" transform="rotate(.05 479.8 123.9)">(0.5)</text>
<text class="c" x="139.00" y="130.28" transform="rotate(.05 139.0 130.3)">−0.22</text><text class="c" x="139.00" y="137.03" transform="rotate(.05 139.0 137.0)">(0.4)</text><text class="c" x="176.87" y="130.28" transform="rotate(.05 176.9 130.3)">0.16</text><text class="c" x="176.87" y="137.03" transform="rotate(.05 176.9 137.0)">(0.5)</text><text class="c" x="214.74" y="130.28" transform="rotate(.05 214.7 130.3)">0.42</text><text class="c" x="214.74" y="137.03" transform="rotate(.05 214.7 137.0)">(0.07)</text><text class="c" x="252.61" y="130.28" transform="rotate(.05 252.6 130.3)">−0.19</text><text class="c" x="252.61" y="137.03" transform="rotate(.05 252.6 137.0)">(0.4)</text><text class="c" x="290.48" y="130.28" transform="rotate(.05 290.5 130.3)">0.13</text><text class="c" x="290.48" y="137.03" transform="rotate(.05 290.5 137.0)">(0.6)</text><text class="c" x="328.35" y="130.28" transform="rotate(.05 328.4 130.3)">−0.19</text><text class="c" x="328.35" y="137.03" transform="rotate(.05 328.4 137.0)">(0.4)</text><text class="c" x="366.22" y="130.28" transform="rotate(.05 366.2 130.3)">−0.19</text><text class="c" x="366.22" y="137.03" transform="rotate(.05 366.2 137.0)">(0.4)</text><text class="c" x="404.09" y="130.28" transform="rotate(.05 404.1 130.3)">0.15</text><text class="c" x="404.09" y="137.03" transform="rotate(.05 404.1 137.0)">(0.5)</text><text class="c" x="441.96" y="130.28" transform="rotate(.05 442.0 130.3)">−0.18</text><text class="c" x="441.96" y="137.03" transform="rotate(.05 442.0 137.0)">(0.5)</text><text class="c" x="479.83" y="130.28" transform="rotate(.05 479.8 130.3)">0.0056</text><text class="c" x="479.83" y="137.03" transform="rotate(.05 479.8 137.0)">(1)</text>
<text class="c" x="139.00" y="143.39" transform="rotate(.05 139.0 143.4)">−0.28</text><text class="c" x="139.00" y="150.14" transform="rotate(.05 139.0 150.1)">(0.3)</text><text class="c" x="176.87" y="143.39" transform="rotate(.05 176.9 143.4)">0.19</text><text class="c" x="176.87" y="150.14" transform="rotate(.05 176.9 150.1)">(0.4)</text><text class="c" x="214.74" y="143.39" transform="rotate(.05 214.7 143.4)">0.18</text><text class="c" x="214.74" y="150.14" transform="rotate(.05 214.7 150.1)">(0.5)</text><text class="c" x="252.61" y="143.39" transform="rotate(.05 252.6 143.4)">−0.27</text><text class="c" x="252.61" y="150.14" transform="rotate(.05 252.6 150.1)">(0.3)</text><text class="c" x="290.48" y="143.39" transform="rotate(.05 290.5 143.4)">0.16</text><text class="c" x="290.48" y="150.14" transform="rotate(.05 290.5 150.1)">(0.5)</text><text class="c" x="328.35" y="143.39" transform="rotate(.05 328.4 143.4)">−0.25</text><text class="c" x="328.35" y="150.14" transform="rotate(.05 328.4 150.1)">(0.3)</text><text class="c" x="366.22" y="143.39" transform="rotate(.05 366.2 143.4)">−0.27</text><text class="c" x="366.22" y="150.14" transform="rotate(.05 366.2 150.1)">(0.3)</text><text class="c" x="404.09" y="143.39" transform="rotate(.05 404.1 143.4)">0.22</text><text class="c" x="404.09" y="150.14" transform="rotate(.05 404.1 150.1)">(0.4)</text><text class="c" x="441.96" y="143.39" transform="rotate(.05 442.0 143.4)">−0.23</text><text class="c" x="441.96" y="150.14" transform="rotate(.05 442.0 150.1)">(0.4)</text><text class="c" x="479.83" y="143.39" transform="rotate(.05 479.8 143.4)">−0.029</text><text class="c" x="479.83" y="150.14" transform="rotate(.05 479.8 150.1)">(0.9)</text>
<text class="c" x="139.00" y="156.50" transform="rotate(.05 139.0 156.5)">−0.27</text><text class="c" x="139.00" y="163.25" transform="rotate(.05 139.0 163.2)">(0.3)</text><text class="c" x="176.87" y="156.50" transform="rotate(.05 176.9 156.5)">0.2</text><text class="c" x="176.87" y="163.25" transform="rotate(.05 176.9 163.2)">(0.4)</text><text class="c" x="214.74" y="156.50" transform="rotate(.05 214.7 156.5)">0.38</text><text class="c" x="214.74" y="163.25" transform="rotate(.05 214.7 163.2)">(0.1)</text><text class="c" x="252.61" y="156.50" transform="rotate(.05 252.6 156.5)">−0.32</text><text class="c" x="252.61" y="163.25" transform="rotate(.05 252.6 163.2)">(0.2)</text><text class="c" x="290.48" y="156.50" transform="rotate(.05 290.5 156.5)">0.14</text><text class="c" x="290.48" y="163.25" transform="rotate(.05 290.5 163.2)">(0.6)</text><text class="c" x="328.35" y="156.50" transform="rotate(.05 328.4 156.5)">−0.24</text><text class="c" x="328.35" y="163.25" transform="rotate(.05 328.4 163.2)">(0.3)</text><text class="c" x="366.22" y="156.50" transform="rotate(.05 366.2 156.5)">−0.23</text><text class="c" x="366.22" y="163.25" transform="rotate(.05 366.2 163.2)">(0.3)</text><text class="c" x="404.09" y="156.50" transform="rotate(.05 404.1 156.5)">0.24</text><text class="c" x="404.09" y="163.25" transform="rotate(.05 404.1 163.2)">(0.3)</text><text class="c" x="441.96" y="156.50" transform="rotate(.05 442.0 156.5)">−0.22</text><text class="c" x="441.96" y="163.25" transform="rotate(.05 442.0 163.2)">(0.4)</text><text class="c" x="479.83" y="156.50" transform="rotate(.05 479.8 156.5)">−0.057</text><text class="c" x="479.83" y="163.25" transform="rotate(.05 479.8 163.2)">(0.8)</text>
<text class="c" x="139.00" y="169.60" transform="rotate(.05 139.0 169.6)">−0.27</text><text class="c" x="139.00" y="176.35" transform="rotate(.05 139.0 176.4)">(0.3)</text><text class="c" x="176.87" y="169.60" transform="rotate(.05 176.9 169.6)">−0.29</text><text class="c" x="176.87" y="176.35" transform="rotate(.05 176.9 176.4)">(0.2)</text><text class="c" x="214.74" y="169.60" transform="rotate(.05 214.7 169.6)">−0.23</text><text class="c" x="214.74" y="176.35" transform="rotate(.05 214.7 176.4)">(0.3)</text><text class="c" x="252.61" y="169.60" transform="rotate(.05 252.6 169.6)">−0.27</text><text class="c" x="252.61" y="176.35" transform="rotate(.05 252.6 176.4)">(0.3)</text><text class="c" x="290.48" y="169.60" transform="rotate(.05 290.5 169.6)">−0.032</text><text class="c" x="290.48" y="176.35" transform="rotate(.05 290.5 176.4)">(0.9)</text><text class="c" x="328.35" y="169.60" transform="rotate(.05 328.4 169.6)">−0.26</text><text class="c" x="328.35" y="176.35" transform="rotate(.05 328.4 176.4)">(0.3)</text><text class="c" x="366.22" y="169.60" transform="rotate(.05 366.2 169.6)">−0.24</text><text class="c" x="366.22" y="176.35" transform="rotate(.05 366.2 176.4)">(0.3)</text><text class="c" x="404.09" y="169.60" transform="rotate(.05 404.1 169.6)">−0.25</text><text class="c" x="404.09" y="176.35" transform="rotate(.05 404.1 176.4)">(0.3)</text><text class="c" x="441.96" y="169.60" transform="rotate(.05 442.0 169.6)">−0.21</text><text class="c" x="441.96" y="176.35" transform="rotate(.05 442.0 176.4)">(0.4)</text><text class="c" x="479.83" y="169.60" transform="rotate(.05 479.8 169.6)">0.46</text><text class="c" x="479.83" y="176.35" transform="rotate(.05 479.8 176.4)">(0.05)</text>
<text class="c" x="139.00" y="182.70" transform="rotate(.05 139.0 182.7)">−0.25</text><text class="c" x="139.00" y="189.45" transform="rotate(.05 139.0 189.5)">(0.3)</text><text class="c" x="176.87" y="182.70" transform="rotate(.05 176.9 182.7)">−0.31</text><text class="c" x="176.87" y="189.45" transform="rotate(.05 176.9 189.5)">(0.2)</text><text class="c" x="214.74" y="182.70" transform="rotate(.05 214.7 182.7)">−0.31</text><text class="c" x="214.74" y="189.45" transform="rotate(.05 214.7 189.5)">(0.2)</text><text class="c" x="252.61" y="182.70" transform="rotate(.05 252.6 182.7)">−0.23</text><text class="c" x="252.61" y="189.45" transform="rotate(.05 252.6 189.5)">(0.3)</text><text class="c" x="290.48" y="182.70" transform="rotate(.05 290.5 182.7)">0.016</text><text class="c" x="290.48" y="189.45" transform="rotate(.05 290.5 189.5)">(0.9)</text><text class="c" x="328.35" y="182.70" transform="rotate(.05 328.4 182.7)">−0.24</text><text class="c" x="328.35" y="189.45" transform="rotate(.05 328.4 189.5)">(0.3)</text><text class="c" x="366.22" y="182.70" transform="rotate(.05 366.2 182.7)">−0.23</text><text class="c" x="366.22" y="189.45" transform="rotate(.05 366.2 189.5)">(0.3)</text><text class="c" x="404.09" y="182.70" transform="rotate(.05 404.1 182.7)">−0.49</text><text class="c" x="404.09" y="189.45" transform="rotate(.05 404.1 189.5)">(0.04)</text><text class="c" x="441.96" y="182.70" transform="rotate(.05 442.0 182.7)">−0.2</text><text class="c" x="441.96" y="189.45" transform="rotate(.05 442.0 189.5)">(0.4)</text><text class="c" x="479.83" y="182.70" transform="rotate(.05 479.8 182.7)">0.73</text><text class="c" x="479.83" y="189.45" transform="rotate(.05 479.8 189.5)">(4e−04)</text>
<text class="c" x="139.00" y="195.81" transform="rotate(.05 139.0 195.8)">−0.46</text><text class="c" x="139.00" y="202.56" transform="rotate(.05 139.0 202.6)">(0.05)</text><text class="c" x="176.87" y="195.81" transform="rotate(.05 176.9 195.8)">−0.24</text><text class="c" x="176.87" y="202.56" transform="rotate(.05 176.9 202.6)">(0.3)</text><text class="c" x="214.74" y="195.81" transform="rotate(.05 214.7 195.8)">−0.079</text><text class="c" x="214.74" y="202.56" transform="rotate(.05 214.7 202.6)">(0.7)</text><text class="c" x="252.61" y="195.81" transform="rotate(.05 252.6 195.8)">−0.45</text><text class="c" x="252.61" y="202.56" transform="rotate(.05 252.6 202.6)">(0.06)</text><text class="c" x="290.48" y="195.81" transform="rotate(.05 290.5 195.8)">0.14</text><text class="c" x="290.48" y="202.56" transform="rotate(.05 290.5 202.6)">(0.6)</text><text class="c" x="328.35" y="195.81" transform="rotate(.05 328.4 195.8)">−0.44</text><text class="c" x="328.35" y="202.56" transform="rotate(.05 328.4 202.6)">(0.06)</text><text class="c" x="366.22" y="195.81" transform="rotate(.05 366.2 195.8)">−0.36</text><text class="c" x="366.22" y="202.56" transform="rotate(.05 366.2 202.6)">(0.1)</text><text class="c" x="404.09" y="195.81" transform="rotate(.05 404.1 195.8)">−0.27</text><text class="c" x="404.09" y="202.56" transform="rotate(.05 404.1 202.6)">(0.3)</text><text class="c" x="441.96" y="195.81" transform="rotate(.05 442.0 195.8)">−0.35</text><text class="c" x="441.96" y="202.56" transform="rotate(.05 442.0 202.6)">(0.1)</text><text class="c" x="479.83" y="195.81" transform="rotate(.05 479.8 195.8)">0.64</text><text class="c" x="479.83" y="202.56" transform="rotate(.05 479.8 202.6)">(0.003)</text>
<text class="c" x="139.00" y="208.92" transform="rotate(.05 139.0 208.9)">−0.75</text><text class="c" x="139.00" y="215.67" transform="rotate(.05 139.0 215.7)">(2e−04)</text><text class="c" x="176.87" y="208.92" transform="rotate(.05 176.9 208.9)">−0.28</text><text class="c" x="176.87" y="215.67" transform="rotate(.05 176.9 215.7)">(0.2)</text><text class="c" x="214.74" y="208.92" transform="rotate(.05 214.7 208.9)">−0.00035</text><text class="c" x="214.74" y="215.67" transform="rotate(.05 214.7 215.7)">(1)</text><text class="c" x="252.61" y="208.92" transform="rotate(.05 252.6 208.9)">−0.77</text><text class="c" x="252.61" y="215.67" transform="rotate(.05 252.6 215.7)">(1e−04)</text><text class="c" x="290.48" y="208.92" transform="rotate(.05 290.5 208.9)">0.48</text><text class="c" x="290.48" y="215.67" transform="rotate(.05 290.5 215.7)">(0.04)</text><text class="c" x="328.35" y="208.92" transform="rotate(.05 328.4 208.9)">−0.64</text><text class="c" x="328.35" y="215.67" transform="rotate(.05 328.4 215.7)">(0.003)</text><text class="c" x="366.22" y="208.92" transform="rotate(.05 366.2 208.9)">−0.65</text><text class="c" x="366.22" y="215.67" transform="rotate(.05 366.2 215.7)">(0.003)</text><text class="c" x="404.09" y="208.92" transform="rotate(.05 404.1 208.9)">−0.12</text><text class="c" x="404.09" y="215.67" transform="rotate(.05 404.1 215.7)">(0.6)</text><text class="c" x="441.96" y="208.92" transform="rotate(.05 442.0 208.9)">−0.6</text><text class="c" x="441.96" y="215.67" transform="rotate(.05 442.0 215.7)">(0.007)</text><text class="c" x="479.83" y="208.92" transform="rotate(.05 479.8 208.9)">0.71</text><text class="c" x="479.83" y="215.67" transform="rotate(.05 479.8 215.7)">(7e−04)</text>
<text class="c" x="139.00" y="222.02" transform="rotate(.05 139.0 222.0)">0.26</text><text class="c" x="139.00" y="228.77" transform="rotate(.05 139.0 228.8)">(0.3)</text><text class="c" x="176.87" y="222.02" transform="rotate(.05 176.9 222.0)">−0.27</text><text class="c" x="176.87" y="228.77" transform="rotate(.05 176.9 228.8)">(0.3)</text><text class="c" x="214.74" y="222.02" transform="rotate(.05 214.7 222.0)">−0.28</text><text class="c" x="214.74" y="228.77" transform="rotate(.05 214.7 228.8)">(0.3)</text><text class="c" x="252.61" y="222.02" transform="rotate(.05 252.6 222.0)">0.21</text><text class="c" x="252.61" y="228.77" transform="rotate(.05 252.6 228.8)">(0.4)</text><text class="c" x="290.48" y="222.02" transform="rotate(.05 290.5 222.0)">−0.23</text><text class="c" x="290.48" y="228.77" transform="rotate(.05 290.5 228.8)">(0.3)</text><text class="c" x="328.35" y="222.02" transform="rotate(.05 328.4 222.0)">0.39</text><text class="c" x="328.35" y="228.77" transform="rotate(.05 328.4 228.8)">(0.09)</text><text class="c" x="366.22" y="222.02" transform="rotate(.05 366.2 222.0)">0.39</text><text class="c" x="366.22" y="228.77" transform="rotate(.05 366.2 228.8)">(0.1)</text><text class="c" x="404.09" y="222.02" transform="rotate(.05 404.1 222.0)">−0.11</text><text class="c" x="404.09" y="228.77" transform="rotate(.05 404.1 228.8)">(0.6)</text><text class="c" x="441.96" y="222.02" transform="rotate(.05 442.0 222.0)">0.28</text><text class="c" x="441.96" y="228.77" transform="rotate(.05 442.0 228.8)">(0.3)</text><text class="c" x="479.83" y="222.02" transform="rotate(.05 479.8 222.0)">−0.14</text><text class="c" x="479.83" y="228.77" transform="rotate(.05 479.8 228.8)">(0.6)</text>
<text class="c" x="139.00" y="235.12" transform="rotate(.05 139.0 235.1)">0.27</text><text class="c" x="139.00" y="241.88" transform="rotate(.05 139.0 241.9)">(0.3)</text><text class="c" x="176.87" y="235.12" transform="rotate(.05 176.9 235.1)">0.14</text><text class="c" x="176.87" y="241.88" transform="rotate(.05 176.9 241.9)">(0.6)</text><text class="c" x="214.74" y="235.12" transform="rotate(.05 214.7 235.1)">0.11</text><text class="c" x="214.74" y="241.88" transform="rotate(.05 214.7 241.9)">(0.7)</text><text class="c" x="252.61" y="235.12" transform="rotate(.05 252.6 235.1)">0.25</text><text class="c" x="252.61" y="241.88" transform="rotate(.05 252.6 241.9)">(0.3)</text><text class="c" x="290.48" y="235.12" transform="rotate(.05 290.5 235.1)">−0.17</text><text class="c" x="290.48" y="241.88" transform="rotate(.05 290.5 241.9)">(0.5)</text><text class="c" x="328.35" y="235.12" transform="rotate(.05 328.4 235.1)">0.27</text><text class="c" x="328.35" y="241.88" transform="rotate(.05 328.4 241.9)">(0.3)</text><text class="c" x="366.22" y="235.12" transform="rotate(.05 366.2 235.1)">0.16</text><text class="c" x="366.22" y="241.88" transform="rotate(.05 366.2 241.9)">(0.5)</text><text class="c" x="404.09" y="235.12" transform="rotate(.05 404.1 235.1)">0.062</text><text class="c" x="404.09" y="241.88" transform="rotate(.05 404.1 241.9)">(0.8)</text><text class="c" x="441.96" y="235.12" transform="rotate(.05 442.0 235.1)">0.026</text><text class="c" x="441.96" y="241.88" transform="rotate(.05 442.0 241.9)">(0.9)</text><text class="c" x="479.83" y="235.12" transform="rotate(.05 479.8 235.1)">−0.092</text><text class="c" x="479.83" y="241.88" transform="rotate(.05 479.8 241.9)">(0.7)</text>
<text class="c" x="139.00" y="248.23" transform="rotate(.05 139.0 248.2)">0.16</text><text class="c" x="139.00" y="254.98" transform="rotate(.05 139.0 255.0)">(0.5)</text><text class="c" x="176.87" y="248.23" transform="rotate(.05 176.9 248.2)">0.23</text><text class="c" x="176.87" y="254.98" transform="rotate(.05 176.9 255.0)">(0.3)</text><text class="c" x="214.74" y="248.23" transform="rotate(.05 214.7 248.2)">0.14</text><text class="c" x="214.74" y="254.98" transform="rotate(.05 214.7 255.0)">(0.6)</text><text class="c" x="252.61" y="248.23" transform="rotate(.05 252.6 248.2)">0.19</text><text class="c" x="252.61" y="254.98" transform="rotate(.05 252.6 255.0)">(0.4)</text><text class="c" x="290.48" y="248.23" transform="rotate(.05 290.5 248.2)">−0.26</text><text class="c" x="290.48" y="254.98" transform="rotate(.05 290.5 255.0)">(0.3)</text><text class="c" x="328.35" y="248.23" transform="rotate(.05 328.4 248.2)">−0.053</text><text class="c" x="328.35" y="254.98" transform="rotate(.05 328.4 255.0)">(0.8)</text><text class="c" x="366.22" y="248.23" transform="rotate(.05 366.2 248.2)">0.13</text><text class="c" x="366.22" y="254.98" transform="rotate(.05 366.2 255.0)">(0.6)</text><text class="c" x="404.09" y="248.23" transform="rotate(.05 404.1 248.2)">−0.17</text><text class="c" x="404.09" y="254.98" transform="rotate(.05 404.1 255.0)">(0.5)</text><text class="c" x="441.96" y="248.23" transform="rotate(.05 442.0 248.2)">0.21</text><text class="c" x="441.96" y="254.98" transform="rotate(.05 442.0 255.0)">(0.4)</text><text class="c" x="479.83" y="248.23" transform="rotate(.05 479.8 248.2)">−0.0091</text><text class="c" x="479.83" y="254.98" transform="rotate(.05 479.8 255.0)">(1)</text>
<text class="c" x="139.00" y="261.33" transform="rotate(.05 139.0 261.3)">0.27</text><text class="c" x="139.00" y="268.08" transform="rotate(.05 139.0 268.1)">(0.3)</text><text class="c" x="176.87" y="261.33" transform="rotate(.05 176.9 261.3)">−0.33</text><text class="c" x="176.87" y="268.08" transform="rotate(.05 176.9 268.1)">(0.2)</text><text class="c" x="214.74" y="261.33" transform="rotate(.05 214.7 261.3)">−0.21</text><text class="c" x="214.74" y="268.08" transform="rotate(.05 214.7 268.1)">(0.4)</text><text class="c" x="252.61" y="261.33" transform="rotate(.05 252.6 261.3)">0.33</text><text class="c" x="252.61" y="268.08" transform="rotate(.05 252.6 268.1)">(0.2)</text><text class="c" x="290.48" y="261.33" transform="rotate(.05 290.5 261.3)">−0.24</text><text class="c" x="290.48" y="268.08" transform="rotate(.05 290.5 268.1)">(0.3)</text><text class="c" x="328.35" y="261.33" transform="rotate(.05 328.4 261.3)">−0.0096</text><text class="c" x="328.35" y="268.08" transform="rotate(.05 328.4 268.1)">(1)</text><text class="c" x="366.22" y="261.33" transform="rotate(.05 366.2 261.3)">0.18</text><text class="c" x="366.22" y="268.08" transform="rotate(.05 366.2 268.1)">(0.5)</text><text class="c" x="404.09" y="261.33" transform="rotate(.05 404.1 261.3)">−0.35</text><text class="c" x="404.09" y="268.08" transform="rotate(.05 404.1 268.1)">(0.1)</text><text class="c" x="441.96" y="261.33" transform="rotate(.05 442.0 261.3)">0.44</text><text class="c" x="441.96" y="268.08" transform="rotate(.05 442.0 268.1)">(0.06)</text><text class="c" x="479.83" y="261.33" transform="rotate(.05 479.8 261.3)">−0.036</text><text class="c" x="479.83" y="268.08" transform="rotate(.05 479.8 268.1)">(0.9)</text>
<text class="c" x="139.00" y="274.44" transform="rotate(.05 139.0 274.4)">0.85</text><text class="c" x="139.00" y="281.19" transform="rotate(.05 139.0 281.2)">(5e−06)</text><text class="c" x="176.87" y="274.44" transform="rotate(.05 176.9 274.4)">−0.18</text><text class="c" x="176.87" y="281.19" transform="rotate(.05 176.9 281.2)">(0.5)</text><text class="c" x="214.74" y="274.44" transform="rotate(.05 214.7 274.4)">−0.3</text><text class="c" x="214.74" y="281.19" transform="rotate(.05 214.7 281.2)">(0.2)</text><text class="c" x="252.61" y="274.44" transform="rotate(.05 252.6 274.4)">0.83</text><text class="c" x="252.61" y="281.19" transform="rotate(.05 252.6 281.2)">(1e−05)</text><text class="c" x="290.48" y="274.44" transform="rotate(.05 290.5 274.4)">−0.77</text><text class="c" x="290.48" y="281.19" transform="rotate(.05 290.5 281.2)">(1e−04)</text><text class="c" x="328.35" y="274.44" transform="rotate(.05 328.4 274.4)">0.69</text><text class="c" x="328.35" y="281.19" transform="rotate(.05 328.4 281.2)">(0.001)</text><text class="c" x="366.22" y="274.44" transform="rotate(.05 366.2 274.4)">0.77</text><text class="c" x="366.22" y="281.19" transform="rotate(.05 366.2 281.2)">(1e−04)</text><text class="c" x="404.09" y="274.44" transform="rotate(.05 404.1 274.4)">−0.49</text><text class="c" x="404.09" y="281.19" transform="rotate(.05 404.1 281.2)">(0.03)</text><text class="c" x="441.96" y="274.44" transform="rotate(.05 442.0 274.4)">0.69</text><text class="c" x="441.96" y="281.19" transform="rotate(.05 442.0 281.2)">(0.001)</text><text class="c" x="479.83" y="274.44" transform="rotate(.05 479.8 274.4)">−0.12</text><text class="c" x="479.83" y="281.19" transform="rotate(.05 479.8 281.2)">(0.6)</text>
<text class="c" x="139.00" y="287.55" transform="rotate(.05 139.0 287.5)">0.42</text><text class="c" x="139.00" y="294.30" transform="rotate(.05 139.0 294.3)">(0.08)</text><text class="c" x="176.87" y="287.55" transform="rotate(.05 176.9 287.5)">−0.0067</text><text class="c" x="176.87" y="294.30" transform="rotate(.05 176.9 294.3)">(1)</text><text class="c" x="214.74" y="287.55" transform="rotate(.05 214.7 287.5)">−0.12</text><text class="c" x="214.74" y="294.30" transform="rotate(.05 214.7 294.3)">(0.6)</text><text class="c" x="252.61" y="287.55" transform="rotate(.05 252.6 287.5)">0.51</text><text class="c" x="252.61" y="294.30" transform="rotate(.05 252.6 294.3)">(0.03)</text><text class="c" x="290.48" y="287.55" transform="rotate(.05 290.5 287.5)">−0.54</text><text class="c" x="290.48" y="294.30" transform="rotate(.05 290.5 294.3)">(0.02)</text><text class="c" x="328.35" y="287.55" transform="rotate(.05 328.4 287.5)">0.18</text><text class="c" x="328.35" y="294.30" transform="rotate(.05 328.4 294.3)">(0.5)</text><text class="c" x="366.22" y="287.55" transform="rotate(.05 366.2 287.5)">0.39</text><text class="c" x="366.22" y="294.30" transform="rotate(.05 366.2 294.3)">(0.1)</text><text class="c" x="404.09" y="287.55" transform="rotate(.05 404.1 287.5)">−0.51</text><text class="c" x="404.09" y="294.30" transform="rotate(.05 404.1 294.3)">(0.02)</text><text class="c" x="441.96" y="287.55" transform="rotate(.05 442.0 287.5)">0.48</text><text class="c" x="441.96" y="294.30" transform="rotate(.05 442.0 294.3)">(0.04)</text><text class="c" x="479.83" y="287.55" transform="rotate(.05 479.8 287.5)">0.11</text><text class="c" x="479.83" y="294.30" transform="rotate(.05 479.8 294.3)">(0.7)</text>
<text class="c" x="139.00" y="300.65" transform="rotate(.05 139.0 300.7)">0.26</text><text class="c" x="139.00" y="307.40" transform="rotate(.05 139.0 307.4)">(0.3)</text><text class="c" x="176.87" y="300.65" transform="rotate(.05 176.9 300.7)">0.15</text><text class="c" x="176.87" y="307.40" transform="rotate(.05 176.9 307.4)">(0.5)</text><text class="c" x="214.74" y="300.65" transform="rotate(.05 214.7 300.7)">0.12</text><text class="c" x="214.74" y="307.40" transform="rotate(.05 214.7 307.4)">(0.6)</text><text class="c" x="252.61" y="300.65" transform="rotate(.05 252.6 300.7)">0.29</text><text class="c" x="252.61" y="307.40" transform="rotate(.05 252.6 307.4)">(0.2)</text><text class="c" x="290.48" y="300.65" transform="rotate(.05 290.5 300.7)">0.15</text><text class="c" x="290.48" y="307.40" transform="rotate(.05 290.5 307.4)">(0.5)</text><text class="c" x="328.35" y="300.65" transform="rotate(.05 328.4 300.7)">0.14</text><text class="c" x="328.35" y="307.40" transform="rotate(.05 328.4 307.4)">(0.6)</text><text class="c" x="366.22" y="300.65" transform="rotate(.05 366.2 300.7)">0.32</text><text class="c" x="366.22" y="307.40" transform="rotate(.05 366.2 307.4)">(0.2)</text><text class="c" x="404.09" y="300.65" transform="rotate(.05 404.1 300.7)">0.17</text><text class="c" x="404.09" y="307.40" transform="rotate(.05 404.1 307.4)">(0.5)</text><text class="c" x="441.96" y="300.65" transform="rotate(.05 442.0 300.7)">−0.13</text><text class="c" x="441.96" y="307.40" transform="rotate(.05 442.0 307.4)">(0.6)</text><text class="c" x="479.83" y="300.65" transform="rotate(.05 479.8 300.7)">−0.06</text><text class="c" x="479.83" y="307.40" transform="rotate(.05 479.8 307.4)">(0.8)</text>
<text class="c" x="139.00" y="313.75" transform="rotate(.05 139.0 313.8)">0.23</text><text class="c" x="139.00" y="320.50" transform="rotate(.05 139.0 320.5)">(0.3)</text><text class="c" x="176.87" y="313.75" transform="rotate(.05 176.9 313.8)">−0.31</text><text class="c" x="176.87" y="320.50" transform="rotate(.05 176.9 320.5)">(0.2)</text><text class="c" x="214.74" y="313.75" transform="rotate(.05 214.7 313.8)">−0.29</text><text class="c" x="214.74" y="320.50" transform="rotate(.05 214.7 320.5)">(0.2)</text><text class="c" x="252.61" y="313.75" transform="rotate(.05 252.6 313.8)">0.052</text><text class="c" x="252.61" y="320.50" transform="rotate(.05 252.6 320.5)">(0.8)</text><text class="c" x="290.48" y="313.75" transform="rotate(.05 290.5 313.8)">−0.24</text><text class="c" x="290.48" y="320.50" transform="rotate(.05 290.5 320.5)">(0.3)</text><text class="c" x="328.35" y="313.75" transform="rotate(.05 328.4 313.8)">0.22</text><text class="c" x="328.35" y="320.50" transform="rotate(.05 328.4 320.5)">(0.4)</text><text class="c" x="366.22" y="313.75" transform="rotate(.05 366.2 313.8)">−0.033</text><text class="c" x="366.22" y="320.50" transform="rotate(.05 366.2 320.5)">(0.9)</text><text class="c" x="404.09" y="313.75" transform="rotate(.05 404.1 313.8)">−0.085</text><text class="c" x="404.09" y="320.50" transform="rotate(.05 404.1 320.5)">(0.7)</text><text class="c" x="441.96" y="313.75" transform="rotate(.05 442.0 313.8)">0.18</text><text class="c" x="441.96" y="320.50" transform="rotate(.05 442.0 320.5)">(0.5)</text><text class="c" x="479.83" y="313.75" transform="rotate(.05 479.8 313.8)">−0.077</text><text class="c" x="479.83" y="320.50" transform="rotate(.05 479.8 320.5)">(0.8)</text>
<text class="c" x="139.00" y="326.86" transform="rotate(.05 139.0 326.9)">0.22</text><text class="c" x="139.00" y="333.61" transform="rotate(.05 139.0 333.6)">(0.4)</text><text class="c" x="176.87" y="326.86" transform="rotate(.05 176.9 326.9)">0.16</text><text class="c" x="176.87" y="333.61" transform="rotate(.05 176.9 333.6)">(0.5)</text><text class="c" x="214.74" y="326.86" transform="rotate(.05 214.7 326.9)">0.09</text><text class="c" x="214.74" y="333.61" transform="rotate(.05 214.7 333.6)">(0.7)</text><text class="c" x="252.61" y="326.86" transform="rotate(.05 252.6 326.9)">0.12</text><text class="c" x="252.61" y="333.61" transform="rotate(.05 252.6 333.6)">(0.6)</text><text class="c" x="290.48" y="326.86" transform="rotate(.05 290.5 326.9)">−0.24</text><text class="c" x="290.48" y="333.61" transform="rotate(.05 290.5 333.6)">(0.3)</text><text class="c" x="328.35" y="326.86" transform="rotate(.05 328.4 326.9)">0.23</text><text class="c" x="328.35" y="333.61" transform="rotate(.05 328.4 333.6)">(0.3)</text><text class="c" x="366.22" y="326.86" transform="rotate(.05 366.2 326.9)">0.17</text><text class="c" x="366.22" y="333.61" transform="rotate(.05 366.2 333.6)">(0.5)</text><text class="c" x="404.09" y="326.86" transform="rotate(.05 404.1 326.9)">0.16</text><text class="c" x="404.09" y="333.61" transform="rotate(.05 404.1 333.6)">(0.5)</text><text class="c" x="441.96" y="326.86" transform="rotate(.05 442.0 326.9)">−0.13</text><text class="c" x="441.96" y="333.61" transform="rotate(.05 442.0 333.6)">(0.6)</text><text class="c" x="479.83" y="326.86" transform="rotate(.05 479.8 326.9)">−0.049</text><text class="c" x="479.83" y="333.61" transform="rotate(.05 479.8 333.6)">(0.8)</text>
<text class="c" x="139.00" y="339.97" transform="rotate(.05 139.0 340.0)">0.3</text><text class="c" x="139.00" y="346.72" transform="rotate(.05 139.0 346.7)">(0.2)</text><text class="c" x="176.87" y="339.97" transform="rotate(.05 176.9 340.0)">−0.33</text><text class="c" x="176.87" y="346.72" transform="rotate(.05 176.9 346.7)">(0.2)</text><text class="c" x="214.74" y="339.97" transform="rotate(.05 214.7 340.0)">−0.12</text><text class="c" x="214.74" y="346.72" transform="rotate(.05 214.7 346.7)">(0.6)</text><text class="c" x="252.61" y="339.97" transform="rotate(.05 252.6 340.0)">0.28</text><text class="c" x="252.61" y="346.72" transform="rotate(.05 252.6 346.7)">(0.2)</text><text class="c" x="290.48" y="339.97" transform="rotate(.05 290.5 340.0)">−0.36</text><text class="c" x="290.48" y="346.72" transform="rotate(.05 290.5 346.7)">(0.1)</text><text class="c" x="328.35" y="339.97" transform="rotate(.05 328.4 340.0)">0.55</text><text class="c" x="328.35" y="346.72" transform="rotate(.05 328.4 346.7)">(0.01)</text><text class="c" x="366.22" y="339.97" transform="rotate(.05 366.2 340.0)">0.48</text><text class="c" x="366.22" y="346.72" transform="rotate(.05 366.2 346.7)">(0.04)</text><text class="c" x="404.09" y="339.97" transform="rotate(.05 404.1 340.0)">−0.39</text><text class="c" x="404.09" y="346.72" transform="rotate(.05 404.1 346.7)">(0.1)</text><text class="c" x="441.96" y="339.97" transform="rotate(.05 442.0 340.0)">0.51</text><text class="c" x="441.96" y="346.72" transform="rotate(.05 442.0 346.7)">(0.02)</text><text class="c" x="479.83" y="339.97" transform="rotate(.05 479.8 340.0)">−0.058</text><text class="c" x="479.83" y="346.72" transform="rotate(.05 479.8 346.7)">(0.8)</text>
<text class="c" x="139.00" y="353.07" transform="rotate(.05 139.0 353.1)">0.61</text><text class="c" x="139.00" y="359.82" transform="rotate(.05 139.0 359.8)">(0.005)</text><text class="c" x="176.87" y="353.07" transform="rotate(.05 176.9 353.1)">−0.41</text><text class="c" x="176.87" y="359.82" transform="rotate(.05 176.9 359.8)">(0.08)</text><text class="c" x="214.74" y="353.07" transform="rotate(.05 214.7 353.1)">−0.3</text><text class="c" x="214.74" y="359.82" transform="rotate(.05 214.7 359.8)">(0.2)</text><text class="c" x="252.61" y="353.07" transform="rotate(.05 252.6 353.1)">0.48</text><text class="c" x="252.61" y="359.82" transform="rotate(.05 252.6 359.8)">(0.04)</text><text class="c" x="290.48" y="353.07" transform="rotate(.05 290.5 353.1)">−0.57</text><text class="c" x="290.48" y="359.82" transform="rotate(.05 290.5 359.8)">(0.01)</text><text class="c" x="328.35" y="353.07" transform="rotate(.05 328.4 353.1)">0.61</text><text class="c" x="328.35" y="359.82" transform="rotate(.05 328.4 359.8)">(0.006)</text><text class="c" x="366.22" y="353.07" transform="rotate(.05 366.2 353.1)">0.57</text><text class="c" x="366.22" y="359.82" transform="rotate(.05 366.2 359.8)">(0.01)</text><text class="c" x="404.09" y="353.07" transform="rotate(.05 404.1 353.1)">−0.45</text><text class="c" x="404.09" y="359.82" transform="rotate(.05 404.1 359.8)">(0.06)</text><text class="c" x="441.96" y="353.07" transform="rotate(.05 442.0 353.1)">0.45</text><text class="c" x="441.96" y="359.82" transform="rotate(.05 442.0 359.8)">(0.05)</text><text class="c" x="479.83" y="353.07" transform="rotate(.05 479.8 353.1)">0.069</text><text class="c" x="479.83" y="359.82" transform="rotate(.05 479.8 359.8)">(0.8)</text>
<text class="c" x="139.00" y="366.18" transform="rotate(.05 139.0 366.2)">−0.23</text><text class="c" x="139.00" y="372.93" transform="rotate(.05 139.0 372.9)">(0.3)</text><text class="c" x="176.87" y="366.18" transform="rotate(.05 176.9 366.2)">−0.4</text><text class="c" x="176.87" y="372.93" transform="rotate(.05 176.9 372.9)">(0.09)</text><text class="c" x="214.74" y="366.18" transform="rotate(.05 214.7 366.2)">−0.21</text><text class="c" x="214.74" y="372.93" transform="rotate(.05 214.7 372.9)">(0.4)</text><text class="c" x="252.61" y="366.18" transform="rotate(.05 252.6 366.2)">−0.3</text><text class="c" x="252.61" y="372.93" transform="rotate(.05 252.6 372.9)">(0.2)</text><text class="c" x="290.48" y="366.18" transform="rotate(.05 290.5 366.2)">0.14</text><text class="c" x="290.48" y="372.93" transform="rotate(.05 290.5 372.9)">(0.6)</text><text class="c" x="328.35" y="366.18" transform="rotate(.05 328.4 366.2)">−0.14</text><text class="c" x="328.35" y="372.93" transform="rotate(.05 328.4 372.9)">(0.6)</text><text class="c" x="366.22" y="366.18" transform="rotate(.05 366.2 366.2)">−0.19</text><text class="c" x="366.22" y="372.93" transform="rotate(.05 366.2 372.9)">(0.4)</text><text class="c" x="404.09" y="366.18" transform="rotate(.05 404.1 366.2)">−0.29</text><text class="c" x="404.09" y="372.93" transform="rotate(.05 404.1 372.9)">(0.2)</text><text class="c" x="441.96" y="366.18" transform="rotate(.05 442.0 366.2)">−0.22</text><text class="c" x="441.96" y="372.93" transform="rotate(.05 442.0 372.9)">(0.4)</text><text class="c" x="479.83" y="366.18" transform="rotate(.05 479.8 366.2)">0.53</text><text class="c" x="479.83" y="372.93" transform="rotate(.05 479.8 372.9)">(0.02)</text>
<text class="c" x="139.00" y="379.28" transform="rotate(.05 139.0 379.3)">0.06</text><text class="c" x="139.00" y="386.03" transform="rotate(.05 139.0 386.0)">(0.8)</text><text class="c" x="176.87" y="379.28" transform="rotate(.05 176.9 379.3)">0.085</text><text class="c" x="176.87" y="386.03" transform="rotate(.05 176.9 386.0)">(0.7)</text><text class="c" x="214.74" y="379.28" transform="rotate(.05 214.7 379.3)">−0.025</text><text class="c" x="214.74" y="386.03" transform="rotate(.05 214.7 386.0)">(0.9)</text><text class="c" x="252.61" y="379.28" transform="rotate(.05 252.6 379.3)">−0.045</text><text class="c" x="252.61" y="386.03" transform="rotate(.05 252.6 386.0)">(0.9)</text><text class="c" x="290.48" y="379.28" transform="rotate(.05 290.5 379.3)">0.13</text><text class="c" x="290.48" y="386.03" transform="rotate(.05 290.5 386.0)">(0.6)</text><text class="c" x="328.35" y="379.28" transform="rotate(.05 328.4 379.3)">0.17</text><text class="c" x="328.35" y="386.03" transform="rotate(.05 328.4 386.0)">(0.5)</text><text class="c" x="366.22" y="379.28" transform="rotate(.05 366.2 379.3)">0.0065</text><text class="c" x="366.22" y="386.03" transform="rotate(.05 366.2 386.0)">(1)</text><text class="c" x="404.09" y="379.28" transform="rotate(.05 404.1 379.3)">0.37</text><text class="c" x="404.09" y="386.03" transform="rotate(.05 404.1 386.0)">(0.1)</text><text class="c" x="441.96" y="379.28" transform="rotate(.05 442.0 379.3)">−0.18</text><text class="c" x="441.96" y="386.03" transform="rotate(.05 442.0 386.0)">(0.5)</text><text class="c" x="479.83" y="379.28" transform="rotate(.05 479.8 379.3)">−0.23</text><text class="c" x="479.83" y="386.03" transform="rotate(.05 479.8 386.0)">(0.3)</text>
</g>
<text class="x" transform="translate(141.10,399.10) rotate(-45)">Dpi</text>
<text class="x" transform="translate(178.97,399.10) rotate(-45)">H_L_group</text>
<text class="x" transform="translate(216.84,399.10) rotate(-45)">H_L_ratio</text>
<text class="x" transform="translate(254.71,399.10) rotate(-45)">BW_post_SE</text>
<text class="x" transform="translate(292.58,399.10) rotate(-45)">Bacterial_load</text>
<text class="x" transform="translate(330.45,399.10) rotate(-45)">Propionate</text>
<text class="x" transform="translate(368.32,399.10) rotate(-45)">Valerate</text>
<text class="x" transform="translate(406.19,399.10) rotate(-45)">Firmicutes</text>
<text class="x" transform="translate(444.06,399.10) rotate(-45)">Bacteroidota</text>
<text class="x" transform="translate(481.93,399.10) rotate(-45)">Proteobacteria</text>
<g>
<rect x="504.70" y="54.40" width="9.40" height="6.52" fill="#FF3000"/><rect x="504.70" y="60.62" width="9.40" height="6.52" fill="#FF3900"/><rect x="504.70" y="66.84" width="9.40" height="6.52" fill="#FF4207"/><rect x="504.70" y="73.07" width="9.40" height="6.52" fill="#FF4B15"/><rect x="504.70" y="79.29" width="9.40" height="6.52" fill="#FF5423"/><rect x="504.70" y="85.51" width="9.40" height="6.52" fill="#FF5D2F"/><rect x="504.70" y="91.73" width="9.40" height="6.52" fill="#FF663B"/><rect x="504.70" y="97.95" width="9.40" height="6.52" fill="#FF6F47"/><rect x="504.70" y="104.18" width="9.40" height="6.52" fill="#FF7852"/><rect x="504.70" y="110.40" width="9.40" height="6.52" fill="#FF815E"/><rect x="504.70" y="116.62" width="9.40" height="6.52" fill="#FF8969"/><rect x="504.70" y="122.84" width="9.40" height="6.52" fill="#FF9274"/><rect x="504.70" y="129.06" width="9.40" height="6.52" fill="#FF9A7F"/><rect x="504.70" y="135.29" width="9.40" height="6.52" fill="#FFA38A"/><rect x="504.70" y="141.51" width="9.40" height="6.52" fill="#FFAC95"/><rect x="504.70" y="147.73" width="9.40" height="6.52" fill="#FFB4A0"/><rect x="504.70" y="153.95" width="9.40" height="6.52" fill="#FFBCAB"/><rect x="504.70" y="160.17" width="9.40" height="6.52" fill="#FFC5B5"/><rect x="504.70" y="166.40" width="9.40" height="6.52" fill="#FFCDC0"/><rect x="504.70" y="172.62" width="9.40" height="6.52" fill="#FFD6CB"/><rect x="504.70" y="178.84" width="9.40" height="6.52" fill="#FFDED5"/><rect x="504.70" y="185.06" width="9.40" height="6.52" fill="#FFE6E0"/><rect x="504.70" y="191.28" width="9.40" height="6.52" fill="#FFEFEA"/><rect x="504.70" y="197.51" width="9.40" height="6.52" fill="#FFF7F5"/><rect x="504.70" y="203.73" width="9.40" height="6.52" fill="#FFFFFF"/><rect x="504.70" y="209.95" width="9.40" height="6.52" fill="#FFFFFF"/><rect x="504.70" y="216.17" width="9.40" height="6.52" fill="#F3FAFF"/><rect x="504.70" y="222.39" width="9.40" height="6.52" fill="#E7F6FF"/><rect x="504.70" y="228.62" width="9.40" height="6.52" fill="#DBF1FF"/><rect x="504.70" y="234.84" width="9.40" height="6.52" fill="#CFECFF"/><rect x="504.70" y="241.06" width="9.40" height="6.52" fill="#C2E8FF"/><rect x="504.70" y="247.28" width="9.40" height="6.52" fill="#B5E3FF"/><rect x="504.70" y="253.50" width="9.40" height="6.52" fill="#A8DEFF"/><rect x="504.70" y="259.73" width="9.40" height="6.52" fill="#9BDAFF"/><rect x="504.70" y="265.95" width="9.40" height="6.52" fill="#8DD5FF"/><rect x="504.70" y="272.17" width="9.40" height="6.52" fill="#7ED0FF"/><rect x="504.70" y="278.39" width="9.40" height="6.52" fill="#6FCCFF"/><rect x="504.70" y="284.61" width="9.40" height="6.52" fill="#5EC7FF"/><rect x="504.70" y="290.84" width="9.40" height="6.52" fill="#4BC2FF"/><rect x="504.70" y="297.06" width="9.40" height="6.52" fill="#33BDFF"/><rect x="504.70" y="303.28" width="9.40" height="6.52" fill="#01B9FF"/><rect x="504.70" y="309.50" width="9.40" height="6.52" fill="#00B4FF"/><rect x="504.70" y="315.72" width="9.40" height="6.52" fill="#00AFFF"/><rect x="504.70" y="321.95" width="9.40" height="6.52" fill="#00AAFF"/><rect x="504.70" y="328.17" width="9.40" height="6.52" fill="#00A6FF"/><rect x="504.70" y="334.39" width="9.40" height="6.52" fill="#00A1FF"/><rect x="504.70" y="340.61" width="9.40" height="6.52" fill="#009CFF"/><rect x="504.70" y="346.83" width="9.40" height="6.52" fill="#0097FF"/><rect x="504.70" y="353.06" width="9.40" height="6.52" fill="#0092FF"/><rect x="504.70" y="359.28" width="9.40" height="6.22" fill="#008EFF"/>
</g>
<rect x="504.70" y="54.40" width="9.40" height="311.10" fill="none" stroke="#3c3c3c" stroke-width="0.65"/>
<line x1="514.10" y1="54.40" x2="520.50" y2="54.40" stroke="#3c3c3c" stroke-width="0.9"/><text class="k" x="523.60" y="58.50" transform="rotate(.05 529.6 58.5)">1</text>
<line x1="514.10" y1="132.18" x2="520.50" y2="132.18" stroke="#3c3c3c" stroke-width="0.9"/><text class="k" x="523.60" y="136.28" transform="rotate(.05 529.6 136.3)">0.5</text>
<line x1="514.10" y1="209.95" x2="520.50" y2="209.95" stroke="#3c3c3c" stroke-width="0.9"/><text class="k" x="523.60" y="214.05" transform="rotate(.05 529.6 214.1)">0</text>
<line x1="514.10" y1="287.73" x2="520.50" y2="287.73" stroke="#3c3c3c" stroke-width="0.9"/><text class="k" x="523.60" y="291.83" transform="rotate(.05 529.6 291.8)">−0.5</text>
<line x1="514.10" y1="365.50" x2="520.50" y2="365.50" stroke="#3c3c3c" stroke-width="0.9"/><text class="k" x="523.60" y="369.60" transform="rotate(.05 529.6 369.6)">−1</text>
</svg>
</body></html>
